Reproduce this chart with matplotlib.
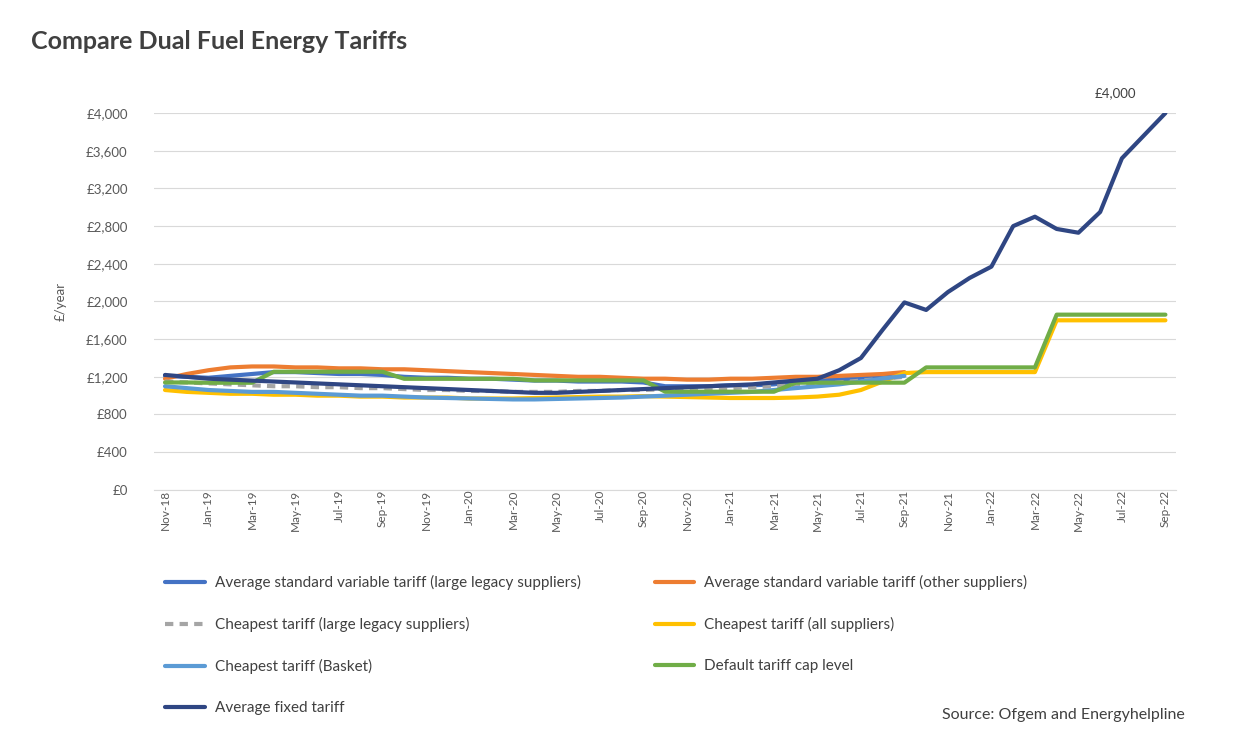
import numpy as np
import matplotlib
matplotlib.use("Agg")
import matplotlib.pyplot as plt
from matplotlib.ticker import FuncFormatter

plt.rcParams['font.family'] = ['Lato', 'DejaVu Sans']

title = "Compare Dual Fuel Energy Tariffs"
source = "Source: Ofgem and Energyhelpline"
y_label = "£/year"

months = ["Nov-18", "Dec-18", "Jan-19", "Feb-19", "Mar-19", "Apr-19", "May-19", "Jun-19",
          "Jul-19", "Aug-19", "Sep-19", "Oct-19", "Nov-19", "Dec-19", "Jan-20", "Feb-20",
          "Mar-20", "Apr-20", "May-20", "Jun-20", "Jul-20", "Aug-20", "Sep-20", "Oct-20",
          "Nov-20", "Dec-20", "Jan-21", "Feb-21", "Mar-21", "Apr-21", "May-21", "Jun-21",
          "Jul-21", "Aug-21", "Sep-21", "Oct-21", "Nov-21", "Dec-21", "Jan-22", "Feb-22",
          "Mar-22", "Apr-22", "May-22", "Jun-22", "Jul-22", "Aug-22", "Sep-22"]

N = None
svt_legacy = [1210, 1200, 1190, 1210, 1230, 1250, 1250, 1240, 1230, 1230, 1220, 1200,
              1190, 1190, 1180, 1180, 1170, 1160, 1160, 1150, 1150, 1150, 1140, 1100,
              1100, 1100, 1110, 1110, 1120, 1150, 1160, 1170, 1190, 1210, 1240,
              N, N, N, N, N, N, N, N, N, N, N, N]
svt_other = [1180, 1230, 1270, 1300, 1310, 1310, 1300, 1300, 1290, 1290, 1280, 1280,
             1270, 1260, 1250, 1240, 1230, 1220, 1210, 1200, 1200, 1190, 1180, 1180,
             1170, 1170, 1180, 1180, 1190, 1200, 1200, 1210, 1220, 1230, 1250,
             N, N, N, N, N, N, N, N, N, N, N, N]
cheapest_legacy = [1150, 1140, 1130, 1120, 1110, 1100, 1100, 1090, 1090, 1080, 1080, 1070,
                   1060, 1060, 1050, 1050, 1040, 1040, 1040, 1050, 1050, 1060, 1060, 1070,
                   1070, 1080, 1080, 1090, 1100, 1110, 1120, 1140, 1160, 1180, 1200,
                   N, N, N, N, N, N, N, N, N, N, N, N]
cheapest_all = [1060, 1040, 1030, 1020, 1020, 1010, 1010, 1000, 1000, 990, 990, 980,
                980, 980, 970, 970, 970, 975, 980, 985, 990, 990, 995, 990,
                985, 980, 975, 975, 975, 980, 990, 1010, 1060, 1150, 1240, 1250,
                1250, 1250, 1250, 1250, 1250, 1800, 1800, 1800, 1800, 1800, 1800]
cheapest_basket = [1100, 1080, 1060, 1050, 1040, 1040, 1030, 1020, 1010, 1000, 1000, 990,
                   980, 975, 970, 965, 960, 960, 965, 970, 975, 980, 990, 1000,
                   1010, 1020, 1030, 1040, 1060, 1080, 1100, 1120, 1150, 1180, 1210,
                   N, N, N, N, N, N, N, N, N, N, N, N]
cap_level = [1140, 1140, 1137, 1137, 1137, 1254, 1254, 1254, 1254, 1254, 1254, 1179,
             1179, 1179, 1179, 1179, 1179, 1162, 1162, 1162, 1162, 1162, 1162, 1042,
             1042, 1042, 1042, 1042, 1042, 1138, 1138, 1138, 1138, 1138, 1138, 1300,
             1300, 1300, 1300, 1300, 1300, 1860, 1860, 1860, 1860, 1860, 1860]
avg_fixed = [1220, 1200, 1180, 1170, 1160, 1150, 1140, 1130, 1120, 1110, 1100, 1090,
             1080, 1070, 1060, 1050, 1040, 1030, 1030, 1040, 1050, 1060, 1070, 1080,
             1090, 1100, 1110, 1120, 1140, 1160, 1180, 1270, 1400, 1700, 1990, 1910,
             2100, 2250, 2370, 2800, 2900, 2770, 2730, 2950, 3520, 3760, 4000]

series = [
    ("Average standard variable tariff (large legacy suppliers)", svt_legacy, "#4472C4", "-"),
    ("Average standard variable tariff (other suppliers)", svt_other, "#ED7D31", "-"),
    ("Cheapest tariff (large legacy suppliers)", cheapest_legacy, "#A5A5A5", (0, (2, 1.5))),
    ("Cheapest tariff (all suppliers)", cheapest_all, "#FFC000", "-"),
    ("Cheapest tariff (Basket)", cheapest_basket, "#5B9BD5", "-"),
    ("Default tariff cap level", cap_level, "#70AD47", "-"),
    ("Average fixed tariff", avg_fixed, "#2F4683", "-"),
]

fig = plt.figure(figsize=(12.33, 7.49), dpi=100)
ax = fig.add_axes([0.125, 0.346, 0.829, 0.503])

x = np.arange(len(months))
handles = {}
for label, vals, color, ls in series:
    v = np.array([np.nan if a is None else a for a in vals], dtype=float)
    h, = ax.plot(x, v, color=color, lw=3, ls=ls, label=label, solid_capstyle='round')
    handles[label] = h

ax.set_xlim(-0.5, len(months) - 0.5)
ax.set_ylim(0, 4000)
ax.set_yticks(np.arange(0, 4001, 400))
ax.yaxis.set_major_formatter(FuncFormatter(lambda v, p: f"£{v:,.0f}"))
ax.grid(axis='y', color='#D9D9D9', lw=0.8)
ax.set_axisbelow(True)
for s in ['top', 'right', 'left']:
    ax.spines[s].set_visible(False)
ax.spines['bottom'].set_color('#D9D9D9')
ax.tick_params(axis='y', length=0, colors='#595959', labelsize=9.5, pad=19)
ax.set_xticks(x[::2])
ax.set_xticklabels(months[::2], rotation=90)
ax.tick_params(axis='x', length=0, colors='#595959', labelsize=8.5, pad=0)
ax.set_ylabel(y_label, color='#595959', fontsize=9.5, labelpad=14)

last = avg_fixed[-1]
ax.annotate(f"£{last:,.0f}", xy=(x[-1], last), xytext=(-36, 14), textcoords='offset points',
            ha='center', va='center', fontsize=9.5, color='#404040', annotation_clip=False)

fig.text(0.025, 0.945, title, fontsize=18, color='#404040', fontweight='bold', va='center')

legend_kw = dict(loc='upper left', frameon=False, fontsize=11, labelcolor='#404040',
                 handlelength=2.6, labelspacing=1.76, handletextpad=0.65,
                 borderaxespad=0, borderpad=0)
col1 = [series[i][0] for i in [0, 2, 4, 6]]
col2 = [series[i][0] for i in [1, 3, 5]]
leg1 = fig.legend([handles[l] for l in col1], col1, bbox_to_anchor=(0.134, 0.232), **legend_kw)
leg2 = fig.legend([handles[l] for l in col2], col2, bbox_to_anchor=(0.531, 0.232), **legend_kw)

fig.text(0.961, 0.046, source, fontsize=11.5, color='#404040', ha='right', va='center')

fig.savefig("out.png", dpi=100)
